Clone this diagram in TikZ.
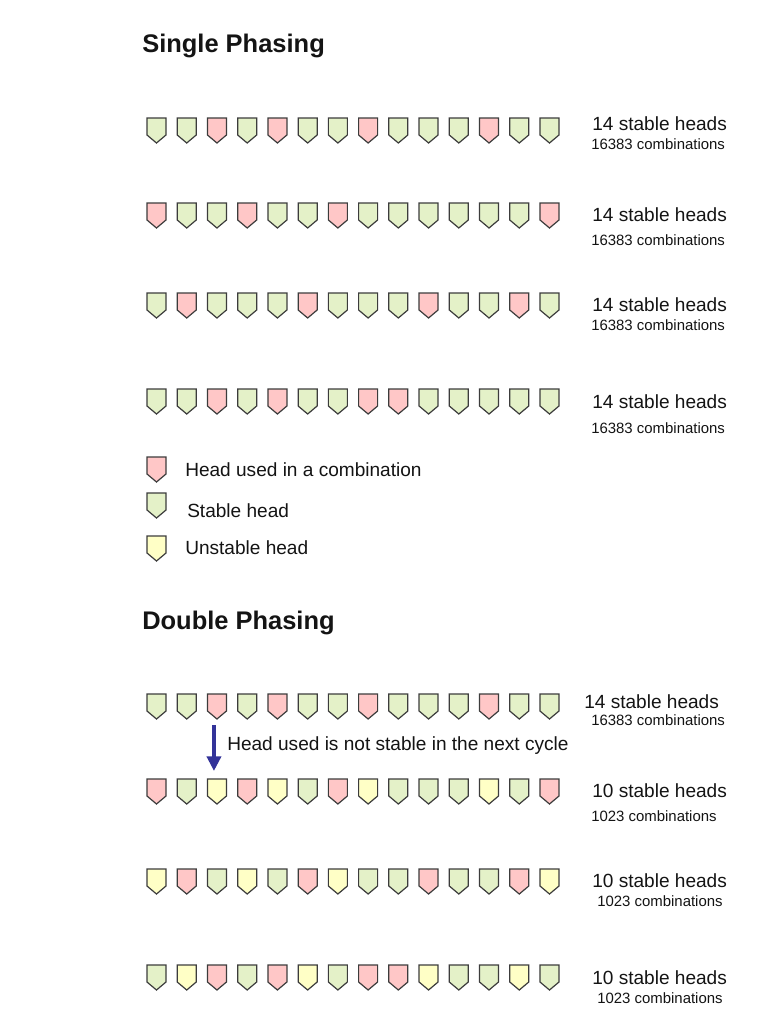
\documentclass[tikz,border=0pt]{standalone}
\usepackage{fontspec}
\setmainfont{Liberation Sans}
\usetikzlibrary{arrows.meta}
\definecolor{hdR}{HTML}{FFC7C7}
\definecolor{hdG}{HTML}{E4F1C8}
\definecolor{hdY}{HTML}{FFFFC6}
\definecolor{hline}{HTML}{3C3C3C}
\definecolor{txt}{HTML}{141414}
\definecolor{navy}{HTML}{333399}
\tikzset{
  head/.style={draw=hline, line width=0.9pt, line join=miter},
  title/.style={anchor=base west, inner sep=0pt, font=\fontsize{19.1}{22}\selectfont\bfseries, text=txt},
  big/.style={anchor=base west, inner sep=0pt, font=\fontsize{14.3}{17}\selectfont, text=txt},
  small/.style={anchor=base west, inner sep=0pt, font=\fontsize{11.2}{13}\selectfont, text=txt},
  bluearrow/.style={draw=navy, line width=3pt, -{Triangle[width=10.5pt,length=11pt]}}
}
\begin{document}
\begin{tikzpicture}[x=0.75pt,y=-0.75pt]
\useasboundingbox[fill=white] (0,0) rectangle (768,1024);
% head rows
\foreach \r/\yt/\lst in {
  1/118/{G,G,R,G,R,G,G,R,G,G,G,R,G,G},
  2/203/{R,G,G,R,G,G,R,G,G,G,G,G,G,R},
  3/293/{G,R,G,G,G,R,G,G,G,R,G,G,R,G},
  4/389/{G,G,R,G,R,G,G,R,R,G,G,G,G,G},
  5/694/{G,G,R,G,R,G,G,R,G,G,G,R,G,G},
  6/779/{R,G,Y,R,Y,G,R,Y,G,G,G,Y,G,R},
  7/869/{Y,R,G,Y,G,R,Y,G,G,R,G,G,R,Y},
  8/965/{G,Y,R,G,R,Y,G,R,R,Y,G,G,Y,G}}{
  \foreach \c [count=\i from 0] in \lst {
    \path[head, fill=hd\c] ({147+30.23*\i},\yt) -- ++(19,0) -- ++(0,17) -- ++(-9.5,8) -- ++(-9.5,-8) -- cycle;
    \coordinate (h\r-\i-n) at ({156.5+30.23*\i},\yt);
    \coordinate (h\r-\i-s) at ({156.5+30.23*\i},\yt+25);
  }
}
% legend heads
\foreach \n/\yt/\c in {lr/457/R, lg/493/G, ly/536/Y}{
  \path[head, fill=hd\c] (147,\yt) -- ++(19,0) -- ++(0,17) -- ++(-9.5,8) -- ++(-9.5,-8) -- cycle;
}
% titles
\node[title] (t1) at (142,53) {Single Phasing};
\node[title] (t2) at (142,629) {Double Phasing};
% right labels, single phasing
\node[big] (b1) at (592,130) {14 stable heads};
\node[small] (s1) at (591,149.5) {16383 combinations};
\node[big] (b2) at (592,221) {14 stable heads};
\node[small] (s2) at (591,245.5) {16383 combinations};
\node[big] (b3) at (592,311) {14 stable heads};
\node[small] (s3) at (591,330.5) {16383 combinations};
\node[big] (b4) at (592,408) {14 stable heads};
\node[small] (s4) at (591,433.5) {16383 combinations};
% legend texts
\node[big] (l1) at (185,476) {Head used in a combination};
\node[big] (l2) at (187,517) {Stable head};
\node[big] (l3) at (185,554) {Unstable head};
% right labels, double phasing
\node[big] (b5) at (584,708) {14 stable heads};
\node[small] (s5) at (591,725.5) {16383 combinations};
\node[big] (b6) at (592,797) {10 stable heads};
\node[small] (s6) at (591,821.5) {1023 combinations};
\node[big] (b7) at (592,887) {10 stable heads};
\node[small] (s7) at (597,906.5) {1023 combinations};
\node[big] (b8) at (592,984) {10 stable heads};
\node[small] (s8) at (597,1003.5) {1023 combinations};
% arrow
\draw[bluearrow, shorten <=4.5pt, shorten >=6pt] ([xshift=-2.25pt]h5-2-s) -- ([xshift=-2.25pt]h6-2-n);
\node[big] (note) at (227,750) {Head used is not stable in the next cycle};
\end{tikzpicture}
\end{document}
